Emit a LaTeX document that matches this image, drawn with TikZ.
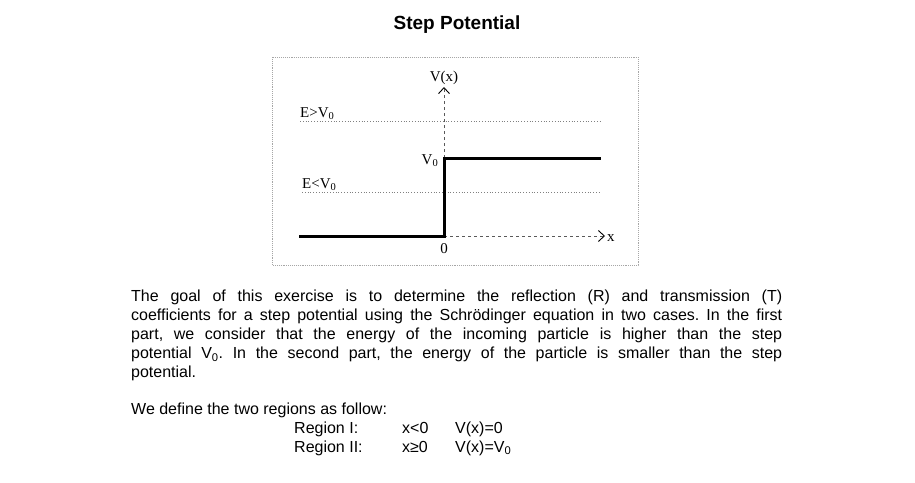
\documentclass[tikz,border=0pt]{standalone}
\usepackage{fontspec}
\setmainfont{Liberation Sans}
\newfontfamily\serifa{Liberation Serif}
\usetikzlibrary{arrows.meta}
\frenchspacing
\begin{document}
\begin{tikzpicture}[x=1pt,y=-1pt,
  lbl/.style={font=\serifa\fontsize{15}{17}\selectfont,inner sep=0pt},
  txt/.style={font=\fontsize{16}{19}\selectfont,inner sep=0pt,anchor=base west},
  pot/.style={line width=3pt},
  ax/.style={dashed,gray!70!black,line width=0.9pt,-{Straight Barb[length=6pt,width=11pt,black]}},
  lev/.style={dotted,gray,line width=0.8pt}]
\useasboundingbox (0,0) rectangle (915,482);
\node[font=\bfseries\fontsize{19}{22}\selectfont] (title) at (457,25) {Step Potential};
\draw[densely dotted,gray!70,line width=0.9pt] (272,57) rectangle (638,265);
\coordinate (o) at (444,236);
\coordinate (top) at (444,87);
\coordinate (xe) at (605,236);
\draw[ax] (o) -- (top);
\draw[ax] (o) -- (xe);
\node[lbl,anchor=south] (vx) at (444,85) {V(x)};
\node[lbl,anchor=west] (xl) at (607,238) {x};
\node[lbl] (zero) at (444,249) {0};
\node[lbl] (v0) at (430,161) {V\textsubscript{0}};
\draw[lev] (300,121) -- (600,121);
\draw[lev] (302,192) -- (600,192);
\node[lbl,anchor=south west] (eg) at (300,120) {E>V\textsubscript{0}};
\node[lbl,anchor=south west] (el) at (302,191) {E<V\textsubscript{0}};
\draw[pot] (299,236) -- (o) -- (444,158) -- (601,158);
\node[font=\fontsize{16}{19}\selectfont,text width=651pt,align=justify,inner sep=0pt,anchor=north west] (para) at (131,290) {The goal of this exercise is to determine the reflection (R) and transmission (T)\linebreak coefficients for a step potential using the Schrödinger equation in two cases. In the first\linebreak part, we consider that the energy of the incoming particle is higher than the step\linebreak potential V\textsubscript{0}. In the second part, the energy of the particle is smaller than the step\linebreak potential.};
\node[txt] (def) at (131,414) {We define the two regions as follow:};
\node[txt] (r1) at (294,433) {Region I:};
\node[txt] (r1a) at (402,433) {x<0};
\node[txt] (r1b) at (455,433) {V(x)=0};
\node[txt] (r2) at (294,452) {Region II:};
\node[txt] (r2a) at (402,452) {x≥0};
\node[txt] (r2b) at (455,452) {V(x)=V\textsubscript{0}};
\end{tikzpicture}
\end{document}
